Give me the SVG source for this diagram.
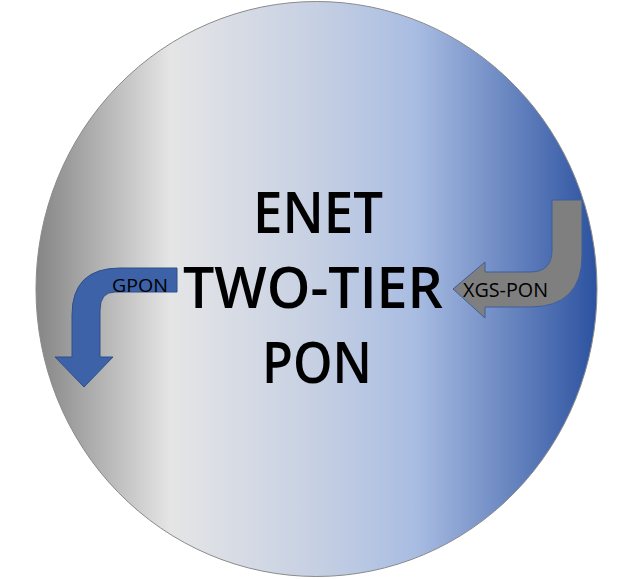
<svg xmlns="http://www.w3.org/2000/svg" width="643" height="579" viewBox="0 0 643 579">
<defs>
<linearGradient id="bg" gradientUnits="userSpaceOnUse" x1="36" y1="0" x2="597" y2="0">
<stop offset="0" stop-color="#858585"/>
<stop offset="0.24" stop-color="#e5e5e6"/>
<stop offset="0.5" stop-color="#c6d0e3"/>
<stop offset="0.68" stop-color="#a8bce2"/>
<stop offset="1" stop-color="#2c52a0"/>
</linearGradient>
<style>
.big{font-family:"Open Sans","Liberation Sans",Arial,sans-serif;font-weight:600;font-size:57px;fill:#000;text-anchor:middle}
.lbl{font-family:"Open Sans","Liberation Sans",Arial,sans-serif;fill:#000}
</style>
</defs>
<g id="background">
<ellipse cx="316.5" cy="289" rx="280.5" ry="287.5" fill="url(#bg)" stroke="#8a8a8a" stroke-width="1"/>
</g>
<g id="title">
<text class="big" x="318" y="233" textLength="130" lengthAdjust="spacingAndGlyphs">ENET</text>
<text class="big" x="313" y="308" textLength="260" lengthAdjust="spacingAndGlyphs">TWO-TIER</text>
<text class="big" x="317" y="383" textLength="110" lengthAdjust="spacingAndGlyphs">PON</text>
</g>
<g id="xgs-pon">
<path d="M552 200 L582 200 L582 255 Q582 307 530 307 L485 307 L485 318 L453 289 L485 262 L485 272 L530 272 Q552 272 552 250 Z" fill="#7f7f7f" stroke="#3f5f9c" stroke-width="1"/>
<text class="lbl" x="463" y="297" font-size="20" textLength="85" lengthAdjust="spacingAndGlyphs">XGS-PON</text>
</g>
<g id="gpon">
<path d="M177 268 L177 292 L115 292 Q100 292 100 310 L100 357 L113 357 L84 387 L55 357 L72 357 L72 315 Q72 268 120 268 Z" fill="#3d62a8" stroke="#2f4f8a" stroke-width="1"/>
<text class="lbl" x="112" y="292" font-size="19" textLength="56" lengthAdjust="spacingAndGlyphs">GPON</text>
</g>
</svg>
